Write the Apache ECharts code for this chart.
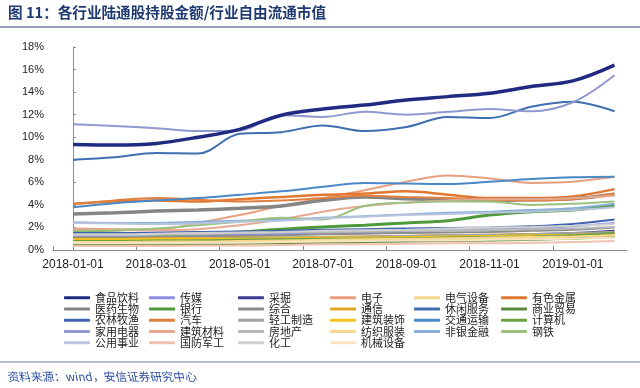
<!DOCTYPE html>
<html><head><meta charset="utf-8">
<script src="https://cdn.jsdelivr.net/npm/echarts@6/dist/echarts.min.js"></script>
<style>html,body{margin:0;padding:0;background:#fff}#c{width:640px;height:388px}</style>
</head><body><div id="c"></div>
<script>
// ---- data ----
const months = ['2018-01-01','2018-02-01','2018-03-01','2018-04-01','2018-05-01','2018-06-01','2018-07-01',
  '2018-08-01','2018-09-01','2018-10-01','2018-11-01','2018-12-01','2019-01-01','2019-02-01'];
const tickLabelIdx = [0,2,4,6,8,10,12];
const yTicks = [0,2,4,6,8,10,12,14,16,18];

const foodBev      = [9.35,9.3,9.45,10.0,10.7,11.95,12.5,12.85,13.3,13.6,13.9,14.5,15.0,16.4];
const media        = [1.2,1.2,1.25,1.3,1.35,1.45,1.55,1.6,1.7,1.75,1.8,1.9,2.1,2.4];
const mining       = [0.8,0.8,0.85,0.9,0.95,1.0,1.1,1.15,1.2,1.25,1.3,1.4,1.5,1.7];
const electronics  = [1.9,1.85,1.8,2.4,3.1,3.9,4.6,5.3,6.05,6.6,6.35,5.95,6.05,6.5];
const elecEquip    = [0.55,0.55,0.6,0.6,0.65,0.7,0.75,0.8,0.85,0.9,0.95,1.0,1.1,1.2];
const nonferrous   = [4.1,4.3,4.4,4.3,4.5,4.7,4.9,5.0,5.2,4.9,4.6,4.6,4.75,5.4];
const pharma       = [3.2,3.3,3.45,3.55,3.7,3.9,4.4,4.7,4.55,4.45,4.4,4.45,4.55,4.95];
const banks        = [1.62,1.5,1.35,1.45,1.6,1.85,2.05,2.2,2.4,2.6,3.1,3.4,3.55,3.95];
const conglomerate = [1.1,1.1,1.15,1.2,1.25,1.3,1.4,1.45,1.5,1.55,1.6,1.7,1.8,2.0];
const telecom      = [1.0,1.0,1.05,1.05,1.1,1.1,1.15,1.2,1.25,1.3,1.35,1.4,1.45,1.6];
const leisure      = [8.0,8.22,8.6,8.55,10.3,10.45,11.05,10.55,10.9,11.8,11.7,12.7,13.15,12.3];
const commerce     = [0.45,0.45,0.5,0.5,0.55,0.6,0.65,0.7,0.75,0.8,0.85,0.9,1.0,1.15];
const agri         = [1.5,1.5,1.55,1.6,1.65,1.7,1.8,1.85,1.9,1.95,2.0,2.1,2.3,2.7];
const auto         = [4.05,4.4,4.6,4.45,4.3,4.4,4.6,4.8,4.7,4.6,4.45,4.4,4.5,5.0];
const lightMfg     = [0.9,0.9,0.95,1.0,1.05,1.1,1.15,1.2,1.25,1.3,1.35,1.4,1.5,1.6];
const construction = [0.95,0.95,1.0,1.0,1.0,1.05,1.1,1.1,1.15,1.2,1.25,1.3,1.35,1.45];
const transport    = [3.8,4.15,4.4,4.6,4.9,5.2,5.6,5.95,5.9,5.85,6.05,6.3,6.45,6.5];
const computer     = [0.8,0.8,0.85,0.85,0.9,0.95,1.0,1.0,1.05,1.1,1.15,1.2,1.3,1.5];
const appliances   = [11.15,11.0,10.8,10.55,10.6,11.95,11.8,12.25,12.0,12.25,12.5,12.3,13.1,15.5];
const buildMat     = [1.8,1.75,1.75,1.85,2.2,2.7,3.4,3.9,4.2,4.4,4.5,4.5,4.6,4.8];
const realEstate   = [1.3,1.3,1.35,1.4,1.5,1.55,1.6,1.65,1.7,1.75,1.8,1.85,1.9,2.05];
const textile      = [0.7,0.7,0.75,0.75,0.8,0.85,0.9,0.95,1.0,1.05,1.1,1.15,1.2,1.3];
const nonBankFin   = [2.45,2.4,2.4,2.5,2.6,2.7,2.85,3.0,3.15,3.3,3.4,3.55,3.7,4.1];
const steel        = [1.7,1.75,1.9,2.2,2.5,2.85,2.7,3.9,4.2,4.3,4.3,4.0,4.1,4.3];
const utilities    = [2.4,2.35,2.3,2.35,2.5,2.6,2.8,2.95,3.1,3.2,3.3,3.4,3.55,3.8];
const defense      = [0.35,0.35,0.35,0.4,0.4,0.45,0.5,0.5,0.55,0.6,0.6,0.65,0.7,0.8];
const chemicals    = [1.4,1.4,1.45,1.5,1.55,1.6,1.7,1.75,1.8,1.9,2.0,2.05,2.15,2.3];
const machinery    = [0.6,0.6,0.6,0.65,0.65,0.7,0.75,0.8,0.85,0.85,0.9,0.95,1.0,1.1];

const names = ['食品饮料','传媒','采掘','电子','电气设备','有色金属',
  '医药生物','银行','综合','通信','休闲服务','商业贸易',
  '农林牧渔','汽车','轻工制造','建筑装饰','交通运输','计算机',
  '家用电器','建筑材料','房地产','纺织服装','非银金融','钢铁',
  '公用事业','国防军工','化工','机械设备'];
const values = [foodBev,media,mining,electronics,elecEquip,nonferrous,
  pharma,banks,conglomerate,telecom,leisure,commerce,
  agri,auto,lightMfg,construction,transport,computer,
  appliances,buildMat,realEstate,textile,nonBankFin,steel,
  utilities,defense,chemicals,machinery];

// ---- styles ----
const colors = ['#1F2A80','#8A8FE6','#3A3D94','#E8A080','#F8D38A','#E2782F',
  '#858585','#4E9A3A','#8C8C8C','#E0A820','#3F6FB0','#5A8A3A',
  '#3F63B0','#E08040','#A0A0A0','#F2C21E','#4A88C8','#6AA040',
  '#9098D0','#E8A890','#B8B8B8','#F8D890','#8AB0DA','#9CC080',
  '#B8C4DC','#F0C0B0','#D0D0D0','#F8E4C0'];
const widths = [3.5,2,2,2,2,2.5, 3.5,3,2,2,2,2, 2,2,2,2,2,2, 2,2,2,2,2,2, 2,2,2,2];

const chart = echarts.init(document.getElementById('c'), null, {renderer:'canvas'});
const legendLefts = [64,149,238,330,414,501];
const legends = legendLefts.map((l,c)=>({
  orient:'vertical', left:l, top:292, itemGap:0, itemWidth:26, itemHeight:3, icon:'roundRect',
  padding:0, selectedMode:false,
  data: names.filter((n,i)=>i%6===c),
  textStyle:{fontSize:11, lineHeight:11.25, color:'#222', fontFamily:'Noto Sans CJK SC'}
}));
const tickPos = tickLabelIdx.map(v=>v-0.48);

chart.setOption({
  animation:false,
  backgroundColor:'#fff',
  grid:{left:53,right:13,top:47,bottom:138},
  legend: legends,
  xAxis:{type:'value',min:-0.48,max:13.3,
    axisLine:{show:true,lineStyle:{color:'#8c8c8c',width:1}},
    splitLine:{show:false},
    axisTick:{show:true,inside:true,length:4,customValues:tickPos,lineStyle:{color:'#8c8c8c'}},
    axisLabel:{customValues:tickLabelIdx,formatter:v=>months[Math.round(v)],fontSize:12,color:'#222',
      fontFamily:'Liberation Sans',margin:9}
  },
  yAxis:{type:'value',min:0,max:18,interval:2,
    axisLine:{show:true,lineStyle:{color:'#8c8c8c',width:1}},
    splitLine:{show:false},
    axisTick:{show:true,inside:true,length:3,lineStyle:{color:'#8c8c8c'}},
    axisLabel:{formatter:'{value}%',fontSize:11,color:'#222',fontFamily:'Liberation Sans',margin:9}
  },
  series: names.map((n,i)=>({
    name:n,type:'line',smooth:0.35,symbol:'none',showSymbol:false,
    data: values[i].map((v,j)=>[j,v]),
    lineStyle:{color:colors[i],width:widths[i]},
    itemStyle:{color:colors[i]},
    z: (i===0?10:(i===18||i===10?8:2))
  })),
  graphic:[
    {type:'text',left:8,top:5,style:{text:'图 11：各行业陆通股持股金额/行业自由流通市值',
      font:'bold 14.6px "Noto Sans CJK SC"',fill:'#1F3A70'}},
    {type:'line',shape:{x1:0,y1:27,x2:640,y2:27},style:{stroke:'#2E4272',lineWidth:1.2}},
    {type:'line',shape:{x1:0,y1:362,x2:640,y2:362},style:{stroke:'#6A78A8',lineWidth:1}},
    {type:'text',x:8,y:371,skewX:0.2,originX:0,originY:8,style:{text:'资料来源：wind，安信证券研究中心',
      font:'11.6px "Noto Sans CJK SC"',fill:'#2F4F9F'}}
  ]
});
</script></body></html>
